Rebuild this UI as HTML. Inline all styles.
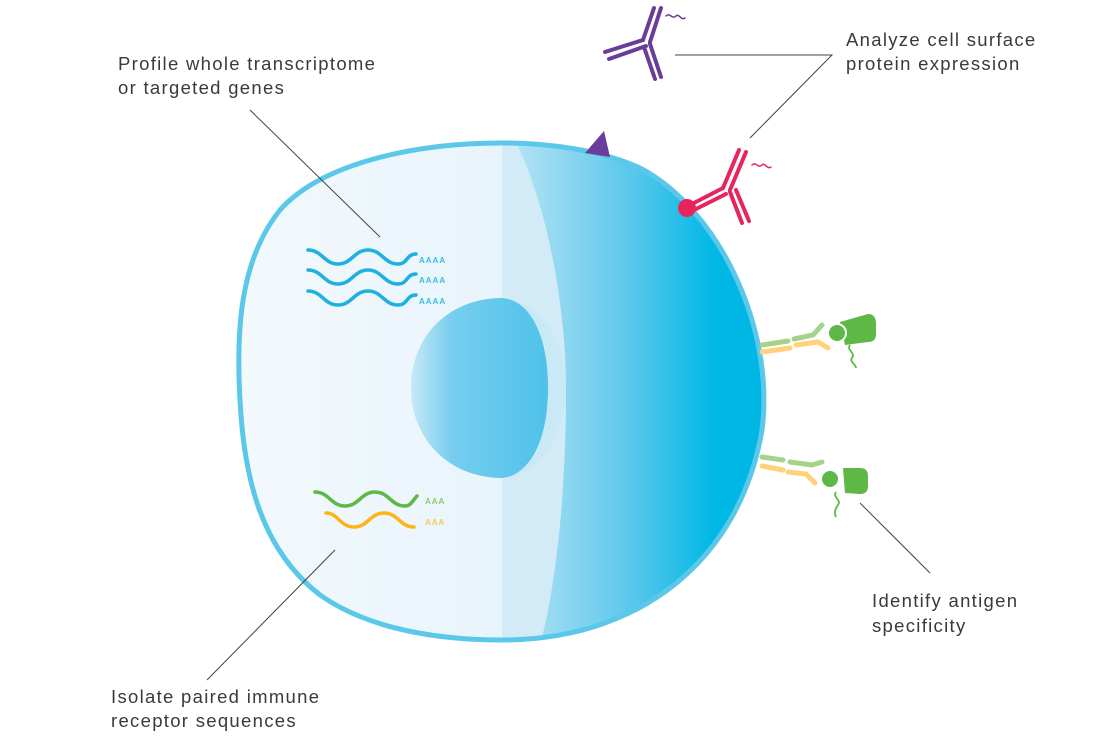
<!DOCTYPE html>
<html><head><meta charset="utf-8"><style>
html,body{margin:0;padding:0;background:#fff;}
svg{display:block}
text{font-family:"Liberation Sans",sans-serif;font-size:18.5px;fill:#3a3a3a;letter-spacing:1.3px}
</style></head><body>
<svg width="1106" height="745" viewBox="0 0 1106 745" xmlns="http://www.w3.org/2000/svg">
<defs>
<linearGradient id="face" x1="0" x2="1" y1="0" y2="0">
<stop offset="0" stop-color="#f3f9fd"/><stop offset="1" stop-color="#ddeff9"/></linearGradient>
<linearGradient id="blue" x1="0" x2="1" y1="0" y2="0">
<stop offset="0" stop-color="#b4e2f4"/><stop offset="0.4" stop-color="#5cc8ec"/><stop offset="0.7" stop-color="#00b8e6"/><stop offset="1" stop-color="#00b4e3"/></linearGradient>
<linearGradient id="nuc" x1="0" x2="1" y1="0" y2="0">
<stop offset="0" stop-color="#c6e9f7"/><stop offset="0.3" stop-color="#76cdee"/><stop offset="1" stop-color="#4ec2ea"/></linearGradient>
<path id="cp" d="M502,143 C410,143 320,165 280,210 C240,260 236,330 240,400 C244,480 262,550 320,595 C370,630 440,640 502,640 C640,640 740,560 762,430 C775,330 720,210 640,168 C600,150 550,143 502,143 Z"/>
<clipPath id="cell"><use href="#cp"/></clipPath>
</defs>
<use href="#cp" fill="url(#face)"/>
<g clip-path="url(#cell)">
<rect x="502" y="140" width="70" height="505" fill="#d3ebf7"/>
<path d="M515,140 C545,200 566,300 566,390 C566,500 555,590 540,645 L800,645 L800,140 Z" fill="url(#blue)"/>
</g>
<path d="M502,298 C540,300 566,340 566,387 C566,435 540,475 502,478 Z" fill="#c9e9f6" opacity="0.9"/>
<path d="M502,298 C450,298 411,335 411,388 C411,440 450,478 502,478 C530,475 548,440 548,388 C548,335 530,300 502,298 Z" fill="url(#nuc)"/>
<use href="#cp" fill="none" stroke="#5bc8ea" stroke-width="5"/>
<path d="M585,153 L604,131 L610,157 Z" fill="#6a3d9a"/>
<g stroke="#6a3d9a" stroke-width="4" stroke-linecap="round" fill="none">
<path d="M643,40 L654,8 M650,42 L661,8"/>
<path d="M643,40 L605,52 M646,46 L609,59"/>
<path d="M650,44 L661,77 M644,47 L655,79"/>
<path d="M666,16 c4,-4 6,4 10,0 c3,-3 5,5 9,2" stroke-width="1.5"/>
</g>
<g stroke="#e8245e" stroke-width="4" stroke-linecap="round" fill="none">
<path d="M723,188 L739,150 M730,190 L746,152"/>
<path d="M723,188 L690,205 M726,194 L694,210"/>
<path d="M730,192 L742,223 M736,190 L749,221"/>
<path d="M752,165 c4,-4 6,4 10,0 c3,-3 5,5 9,2" stroke-width="1.5"/>
</g>
<circle cx="687" cy="208" r="9" fill="#e8245e"/>
<g stroke-width="5" stroke-linecap="round" fill="none">
<path d="M762,345 L788,341 M794,339 L813,335 L822,325" stroke="#a5d38a"/>
<path d="M762,352 L790,348 M796,345 L818,342 L828,348" stroke="#ffd27a"/>
<path d="M762,457 L783,460 M790,462 L812,465 L822,462" stroke="#a5d38a"/>
<path d="M762,466 L783,470 M788,472 L806,474 L815,483" stroke="#ffd27a"/>
</g>
<g fill="#5db846">
<path d="M840,322 L868,314 Q876,314 876,324 L876,334 Q876,342 868,342 L845,345 Z"/><circle cx="837" cy="333" r="9" stroke="#fff" stroke-width="2"/>
<path d="M843,468 L860,468 Q868,468 868,476 L868,486 Q868,494 860,494 L845,493 Z"/><circle cx="830" cy="479" r="9" stroke="#fff" stroke-width="2"/>
</g>
<g stroke="#5db846" stroke-width="1.8" fill="none">
<path d="M850,345 c-4,5 6,8 2,13 c-3,4 4,6 4,10"/>
<path d="M836,492 c-4,5 6,8 2,13 c-3,4 -4,8 -2,12"/>
</g>
<g fill="none" stroke="#1fb0df" stroke-width="3.5" stroke-linecap="round">
<path d="M308,250 c14,0 16,14 30,14 c14,0 16,-14 30,-14 c14,0 16,14 30,14 c10,0 8,-10 18,-10"/>
<path d="M308,270 c14,0 16,14 30,14 c14,0 16,-14 30,-14 c14,0 16,14 30,14 c10,0 8,-10 18,-10"/>
<path d="M308,291 c14,0 16,14 30,14 c14,0 16,-14 30,-14 c14,0 16,14 30,14 c10,0 8,-10 18,-10"/>
</g>
<g fill="none" stroke-width="3.5" stroke-linecap="round">
<path d="M315,492 c14,0 16,14 30,14 c14,0 16,-14 30,-14 c14,0 16,14 30,14 c6,0 8,-6 12,-10" stroke="#5db846"/>
<path d="M326,513 c12,0 14,14 28,14 c14,0 16,-14 30,-14 c14,0 16,14 30,14" stroke="#fbb516"/>
</g>
<g style="font-weight:bold">
<text x="419" y="263" style="fill:#3bbbe6;font-size:8px;letter-spacing:1px">AAAA</text>
<text x="419" y="283" style="fill:#3bbbe6;font-size:8px;letter-spacing:1px">AAAA</text>
<text x="419" y="304" style="fill:#3bbbe6;font-size:8px;letter-spacing:1px">AAAA</text>
<text x="425" y="504" style="fill:#8fcb6f;font-size:8px;letter-spacing:1px">AAA</text>
<text x="425" y="525" style="fill:#fcc95a;font-size:8px;letter-spacing:1px">AAA</text>
</g>
<g stroke="#444" stroke-width="1" fill="none">
<path d="M250,110 L380,237"/>
<path d="M675,55 L832,55 L750,138"/>
<path d="M860,503 L930,573"/>
<path d="M335,550 L207,680"/>
</g>
<text x="118" y="70">Profile whole transcriptome</text>
<text x="118" y="94">or targeted genes</text>
<text x="846" y="46">Analyze cell surface</text>
<text x="846" y="70">protein expression</text>
<text x="872" y="607">Identify antigen</text>
<text x="872" y="632">specificity</text>
<text x="111" y="703">Isolate paired immune</text>
<text x="111" y="727">receptor sequences</text>
</svg>
</body></html>
